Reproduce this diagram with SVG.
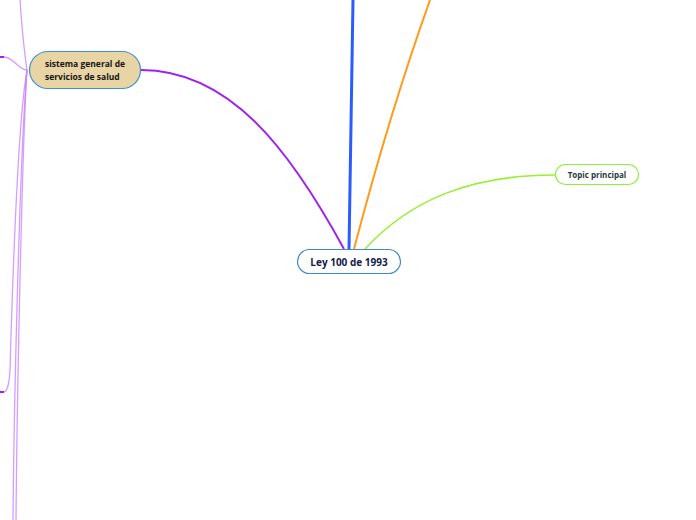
<svg xmlns="http://www.w3.org/2000/svg" width="696" height="520" viewBox="0 0 696 520">
<style>
text{font-family:"Open Sans","Noto Sans","DejaVu Sans",sans-serif;font-weight:700}
.thin{fill:none;stroke:#c57cff;stroke-width:1.3;stroke-opacity:0.75}
.stub{fill:none;stroke:#a020f0;stroke-width:2}
</style>
<rect width="696" height="520" fill="#ffffff"/>
<g id="connectors">
<path class="thin" d="M27,70 C24,50 22,30 20,0"/>
<path class="thin" d="M27,70 C18,70 14,57 4,57"/>
<path class="stub" d="M4,57 L0,57"/>
<path class="thin" d="M27,70 C18,120 12,300 10,370 C9,388 6,392 4,392"/>
<path class="stub" d="M4,392 L0,392"/>
<path class="thin" d="M27,70 C20,150 14,400 13,520"/>
<path class="thin" d="M27,70 C22,150 17,400 16,520"/>
<path d="M141,70 C230,70 290,150 344,249" fill="none" stroke="#a020f0" stroke-width="2"/>
<path d="M349,249 L353,0" fill="none" stroke="#2a5cff" stroke-width="3"/>
<path d="M354,249 C380,150 405,70 430,0" fill="none" stroke="#ff9a1a" stroke-width="2"/>
<path d="M365,249 C410,200 470,175 555,175" fill="none" stroke="#99f030" stroke-width="1.6"/>
</g>
<g id="node-central">
<rect x="297.5" y="249.5" width="103" height="24" rx="12" fill="#ffffff" stroke="#3c8cc8" stroke-width="1.2"/>
<text x="349" y="265.5" text-anchor="middle" font-size="10" fill="#13204a">Ley 100 de 1993</text>
</g>
<g id="node-sistema">
<rect x="29.5" y="51.5" width="111" height="37" rx="18.5" fill="#e9d4a6" stroke="#3d92d1" stroke-width="1.2"/>
<text x="45" y="66.5" font-size="8.5" fill="#151515">sistema general de</text>
<text x="45" y="79.5" font-size="8.5" fill="#151515">servicios de salud</text>
</g>
<g id="node-topic">
<rect x="555.5" y="164.5" width="83" height="20" rx="10" fill="#ffffff" stroke="#8ef03a" stroke-width="1.2"/>
<text x="597" y="177.5" text-anchor="middle" font-size="8" fill="#1f3a3a">Topic principal</text>
</g>
</svg>
